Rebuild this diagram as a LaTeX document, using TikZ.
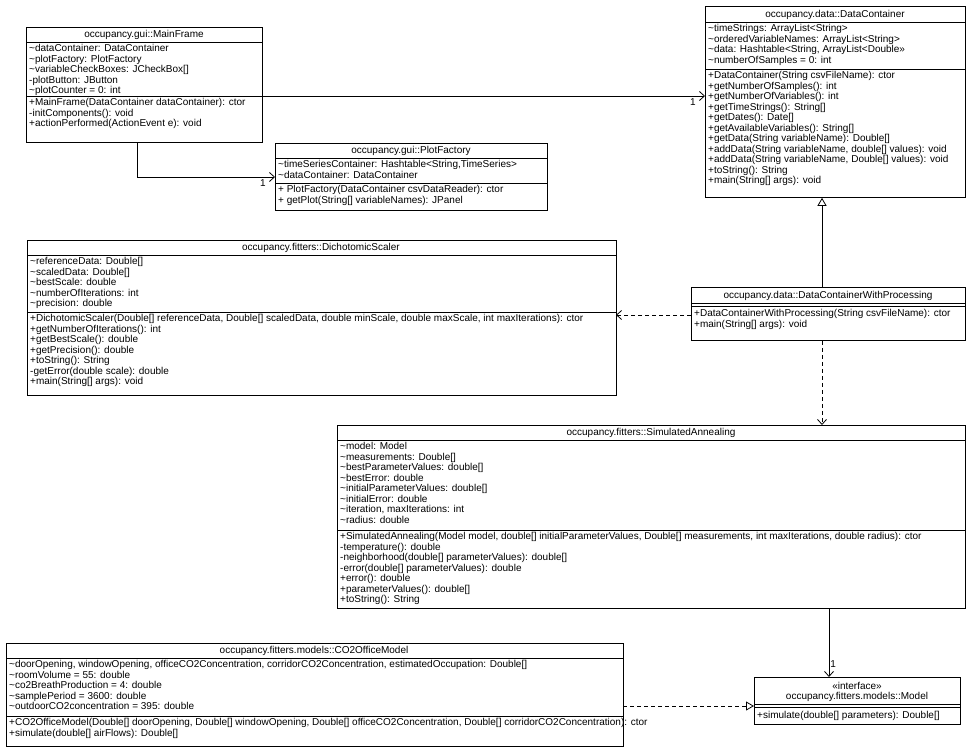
\documentclass[tikz,border=0pt]{standalone}
\usepackage{fontspec}
\setmainfont{Liberation Sans}
\usetikzlibrary{arrows.meta}
\newcommand\tld{\textasciitilde}
\begin{document}
\begin{tikzpicture}[x=1pt,y=-1pt,
  cls/.style={draw,line width=0.8pt,anchor=north west,inner sep=0,fill=white},
  ttl/.style={font=\fontsize{10}{10.5}\selectfont,inner sep=0},
  txt/.style={font=\fontsize{10}{10.5}\selectfont,inner sep=0,anchor=north west,align=left,yshift=-1.5pt},
  sep/.style={line width=0.8pt},
  assoc/.style={line width=0.8pt,-{Straight Barb[length=5pt,width=9pt]}},
  dep/.style={line width=0.8pt,dashed,dash pattern=on 4pt off 3pt,-{Straight Barb[length=5pt,width=9pt]}},
  gen/.style={line width=0.8pt,-{Triangle[open,length=8pt,width=9pt]}},
  real/.style={line width=0.8pt,dash pattern=on 4pt off 3pt,-{Triangle[open,length=8pt,width=9pt]}},
  lbl/.style={font=\fontsize{10}{10}\selectfont,inner sep=1pt}]
\useasboundingbox (0,0) rectangle (974,752);
\fill[white] (0,0) rectangle (974,752);

% MainFrame
\node[cls,minimum width=236pt,minimum height=115pt] (mf) at (26,27) {};
\node[ttl] (mft) at (144,35) {occupancy.gui::MainFrame};
\draw[sep] (26,42) -- (262,42); \draw[sep] (26,96) -- (262,96);
\node[txt] (mfa) at (29,43) {\tld dataContainer: DataContainer\\\tld plotFactory: PlotFactory\\\tld variableCheckBoxes: JCheckBox[]\\-plotButton: JButton\\\tld plotCounter = 0: int};
\node[txt] (mfm) at (29,97) {+MainFrame(DataContainer dataContainer): ctor\\-initComponents(): void\\+actionPerformed(ActionEvent e): void};

% PlotFactory
\node[cls,minimum width=272pt,minimum height=67pt] (pf) at (275,143) {};
\node[ttl] (pft) at (411,151) {occupancy.gui::PlotFactory};
\draw[sep] (275,158) -- (547,158); \draw[sep] (275,183) -- (547,183);
\node[txt] (pfa) at (278,159) {\tld timeSeriesContainer: Hashtable<String,TimeSeries>\\\tld dataContainer: DataContainer};
\node[txt] (pfm) at (278,184) {+ PlotFactory(DataContainer csvDataReader): ctor\\+ getPlot(String[] variableNames): JPanel};

% DataContainer
\node[cls,minimum width=260pt,minimum height=191pt] (dc) at (705,6) {};
\node[ttl] (dct) at (835,15) {occupancy.data::DataContainer};
\draw[sep] (705,22) -- (965,22); \draw[sep] (705,69) -- (965,69);
\node[txt] (dca) at (708,23) {\tld timeStrings: ArrayList<String>\\\tld orderedVariableNames: ArrayList<String>\\\tld data: Hashtable<String, ArrayList<Double»\\\tld numberOfSamples = 0: int};
\node[txt] (dcm) at (708,70) {+DataContainer(String csvFileName): ctor\\+getNumberOfSamples(): int\\+getNumberOfVariables(): int\\+getTimeStrings(): String[]\\+getDates(): Date[]\\+getAvailableVariables(): String[]\\+getData(String variableName): Double[]\\+addData(String variableName, double[] values): void\\+addData(String variableName, Double[] values): void\\+toString(): String\\+main(String[] args): void};

% DataContainerWithProcessing
\node[cls,minimum width=274pt,minimum height=53pt] (dcw) at (691,287) {};
\node[ttl] (dcwt) at (828,296) {occupancy.data::DataContainerWithProcessing};
\draw[sep] (691,303) -- (965,303); \draw[sep] (691,306) -- (965,306);
\node[txt] (dcwm) at (694,308) {+DataContainerWithProcessing(String csvFileName): ctor\\+main(String[] args): void};

% DichotomicScaler
\node[cls,minimum width=589pt,minimum height=155pt] (ds) at (27,240) {};
\node[ttl] (dst) at (321,248) {occupancy.fitters::DichotomicScaler};
\draw[sep] (27,255) -- (616,255); \draw[sep] (27,312) -- (616,312);
\node[txt] (dsa) at (30,256) {\tld referenceData: Double[]\\\tld scaledData: Double[]\\\tld bestScale: double\\\tld numberOfIterations: int\\\tld precision: double};
\node[txt] (dsm) at (30,313) {+DichotomicScaler(Double[] referenceData, Double[] scaledData, double minScale, double maxScale, int maxIterations): ctor\\+getNumberOfIterations(): int\\+getBestScale(): double\\+getPrecision(): double\\+toString(): String\\-getError(double scale): double\\+main(String[] args): void};

% SimulatedAnnealing
\node[cls,minimum width=628pt,minimum height=183pt] (sa) at (337,425) {};
\node[ttl] (sat) at (651,433) {occupancy.fitters::SimulatedAnnealing};
\draw[sep] (337,440) -- (965,440); \draw[sep] (337,530) -- (965,530);
\node[txt] (saa) at (340,441) {\tld model: Model\\\tld measurements: Double[]\\\tld bestParameterValues: double[]\\\tld bestError: double\\\tld initialParameterValues: double[]\\\tld initialError: double\\\tld iteration, maxIterations: int\\\tld radius: double};
\node[txt] (sam) at (340,531) {+SimulatedAnnealing(Model model, double[] initialParameterValues, Double[] measurements, int maxIterations, double radius): ctor\\-temperature(): double\\-neighborhood(double[] parameterValues): double[]\\-error(double[] parameterValues): double\\+error(): double\\+parameterValues(): double[]\\+toString(): String};

% CO2OfficeModel
\node[cls,minimum width=617pt,minimum height=103pt] (co) at (6,643) {};
\node[ttl] (cot) at (314,651) {occupancy.fitters.models::CO2OfficeModel};
\draw[sep] (6,658) -- (623,658); \draw[sep] (6,716) -- (623,716);
\node[txt] (coa) at (9,659) {\tld doorOpening, windowOpening, officeCO2Concentration, corridorCO2Concentration, estimatedOccupation: Double[]\\\tld roomVolume = 55: double\\\tld co2BreathProduction = 4: double\\\tld samplePeriod = 3600: double\\\tld outdoorCO2concentration = 395: double};
\node[txt] (com) at (9,717) {+CO2OfficeModel(Double[] doorOpening, Double[] windowOpening, Double[] officeCO2Concentration, Double[] corridorCO2Concentration): ctor\\+simulate(double[] airFlows): Double[]};

% Model
\node[cls,minimum width=206pt,minimum height=47pt] (mo) at (754,677) {};
\node[ttl,align=center] (mot) at (857,692) {«interface»\\occupancy.fitters.models::Model};
\draw[sep] (754,704) -- (960,704); \draw[sep] (754,707) -- (960,707);
\node[txt] (mom) at (757,710) {+simulate(double[] parameters): Double[]};

% connectors
\coordinate (a1) at (262,96); \coordinate (a2) at (705,96);
\draw[assoc] (a1) -- (a2) node[lbl,pos=1,below left,xshift=-8pt,yshift=-1pt] {1};
\coordinate (b1) at (137,142); \coordinate (b2) at (275,177);
\draw[assoc] (b1) |- (b2) node[lbl,pos=1,below left,xshift=-8pt,yshift=-1pt] {1};
\draw[gen] (dcw.north -| 822,0) -- (dc.south -| 822,0);
\coordinate (c1) at (691,315); \coordinate (c2) at (616,315);
\draw[dep] (c1) -- (c2);
\draw[dep] (dcw.south -| 822,0) -- (sa.north -| 822,0);
\draw[assoc] (sa.south -| 829,0) -- (mo.north -| 829,0) node[lbl,pos=1,above right,yshift=8pt] {1};
\coordinate (d1) at (623,706); \coordinate (d2) at (754,706);
\draw[real] (d1) -- (d2);
\end{tikzpicture}
\end{document}
